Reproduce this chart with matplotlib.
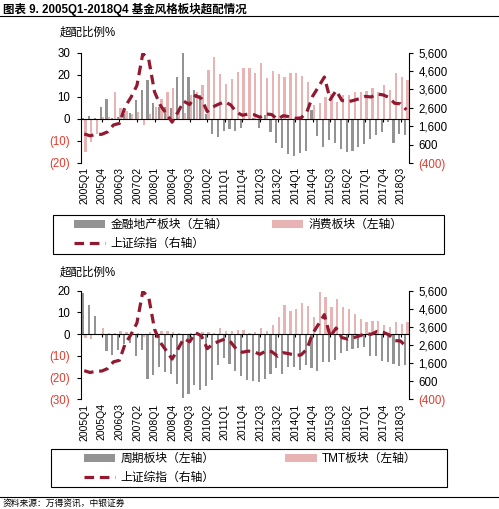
import matplotlib
matplotlib.use('Agg')
import matplotlib.pyplot as plt
from matplotlib.patches import Rectangle, Patch
from matplotlib.lines import Line2D
import numpy as np

plt.rcParams['font.family'] = ['Liberation Sans', 'Noto Sans CJK SC']

# quarters 2005Q1 .. 2018Q4
quarters = [f'{y}Q{q}' for y in range(2005, 2019) for q in range(1, 5)]

# 上证综指 quarter close
sh_index = [1181, 1080, 1155, 1161, 1299, 1672, 1753, 2675,
            3183, 3821, 5552, 5262, 3473, 2736, 2293, 1821,
            2373, 2959, 2779, 3277, 3109, 2398, 2656, 2808,
            2928, 2762, 2359, 2199, 2263, 2225, 2086, 2269,
            2237, 1979, 2175, 2116, 2033, 2048, 2364, 3235,
            3748, 4277, 3053, 3539, 3004, 2930, 3005, 3104,
            3223, 3192, 3349, 3307, 3169, 2847, 2821, 2494]

# top panel: 金融地产 / 消费 over-weight (%)
finance = [0.3, 1.5, 0.5, 5.6, 9.0, 0.5, 1.0, 2.0,
           2.5, 8.5, 13.2, 17.7, 7.0, 5.2, 5.2, 4.8,
           19.2, 29.7, 19.2, 13.2, 10.8, 2.0, -7.0, -8.0,
           -5.5, -4.5, -5.5, -4.2, -0.3, 0.3, -4.2, 1.8,
           -6.0, -11.0, -13.3, -16.0, -16.7, -15.6, -14.4, 4.0,
           -7.6, -12.6, -9.5, -11.0, -13.8, -14.8, -14.5, -12.6,
           -11.5, -9.2, -7.3, -6.0, -1.5, -11.0, -7.0, -7.3]
consumer = [-14.8, -10.3, -7.0, 0.8, 1.0, 12.0, 5.0, 3.5,
            2.0, 3.0, -3.0, 2.4, 5.6, 9.0, 12.0, 14.0,
            4.0, 2.6, 10.6, 12.4, 15.5, 22.0, 28.2, 20.3,
            15.8, 18.0, 21.2, 23.0, 23.2, 20.7, 25.2, 18.7,
            21.6, 20.3, 19.0, 21.0, 21.0, 19.4, 16.7, 6.3,
            7.1, 9.8, 11.1, 7.6, 10.9, 11.0, 12.3, 12.4,
            12.7, 13.9, 12.2, 15.2, 13.1, 20.8, 18.9, 17.6]

# bottom panel: 周期 / TMT over-weight (%)
cyclical = [18.9, 13.3, 8.3, -0.5, -7.6, -9.5, -7.1, -4.5,
            -4.0, -9.9, -7.3, -20.5, -18.8, -15.0, -17.3, -18.4,
            -22.8, -29.4, -27.5, -23.5, -25.8, -24.0, -21.0, -14.1,
            -10.8, -13.8, -17.0, -19.5, -21.3, -21.8, -22.0, -20.7,
            -18.4, -15.5, -18.4, -15.0, -15.0, -16.5, -14.0, -15.8,
            -17.2, -12.6, -13.0, -11.8, -8.6, -7.6, -6.9, -6.2,
            -5.7, -9.9, -9.9, -12.2, -12.6, -13.6, -14.7, -14.2]
tmt = [-1.8, -2.3, 0.2, 3.0, 0.3, 0.5, 1.5, 1.0,
       0.5, 0.5, -1.5, 1.0, 0.5, 1.5, 1.5, 1.0,
       0.3, 0.2, 0.3, 0.5, 1.0, 1.0, 0.5, 3.0,
       1.5, 1.5, 2.0, 2.0, 0.5, 1.0, 2.8, 1.5,
       4.3, 7.8, 13.5, 10.8, 11.5, 14.3, 13.0, 7.7,
       19.4, 17.0, 12.6, 16.2, 12.3, 11.5, 9.4, 7.0,
       5.8, 6.2, 6.2, 4.3, 3.4, 5.5, 4.6, 5.4]

GREY = '#939393'
PINK = '#e8b3b3'
LINE = '#921a30'
NEG = '#e23c2e'
DASH = (0, (3, 1.8))

W, H = 499, 509
fig = plt.figure(figsize=(W / 100, H / 100), dpi=100)


def fx(x):
    return x / W


def fy(y):
    return 1 - y / H


def left_label(v):
    return f'({-v})' if v < 0 else f'{v}'


def right_label(v):
    return f'({-v:,})' if v < 0 else f'{v:,}'


def draw_panel(top, bottom, grey_vals, pink_vals, ylim):
    ax = fig.add_axes([fx(81.3), fy(bottom), fx(409.3) - fx(81.3), fy(top) - fy(bottom)])
    x = np.arange(len(quarters))
    ax.bar(x - 0.2, grey_vals, width=0.38, color=GREY, zorder=2)
    ax.bar(x + 0.2, pink_vals, width=0.38, color=PINK, zorder=2)
    ax.set_xlim(-0.5, len(quarters) - 0.5)
    ax.set_ylim(ylim)

    yt = list(range(ylim[0], ylim[1] + 1, 10))
    ax.set_yticks(yt, [left_label(v) for v in yt])
    for lab, v in zip(ax.get_yticklabels(), yt):
        lab.set_color(NEG if v < 0 else 'black')
    ax.tick_params(axis='y', direction='out', length=3, width=0.8, pad=5, labelsize=8.3)

    # x axis line sits on zero, labels at the bottom
    ax.spines['top'].set_visible(False)
    ax.spines['right'].set_visible(False)
    ax.spines['bottom'].set_position(('data', 0))
    ax.spines['left'].set_linewidth(0.8)
    ax.spines['bottom'].set_linewidth(0.8)
    xt = x[::3]
    ax.set_xticks(xt)
    ax.tick_params(axis='x', direction='out', length=2.5, width=0.8, labelbottom=False)
    sec = ax.secondary_xaxis('bottom')
    sec.set_xticks(xt, [quarters[i] for i in xt], rotation=90)
    sec.tick_params(length=0, pad=3, labelsize=7.5)
    sec.spines['bottom'].set_visible(False)

    ax2 = ax.twinx()
    ax2.plot(x, sh_index, color=LINE, lw=2.3, ls=DASH, zorder=3)
    ax2.set_ylim(-400, 5600)
    rt = [-400, 600, 1600, 2600, 3600, 4600, 5600]
    ax2.set_yticks(rt, [right_label(v) for v in rt])
    for lab, v in zip(ax2.get_yticklabels(), rt):
        lab.set_color(NEG if v < 0 else 'black')
    ax2.tick_params(axis='y', direction='out', length=3, width=0.8, pad=3.5, labelsize=8.3)
    for s in ['top', 'bottom', 'left']:
        ax2.spines[s].set_visible(False)
    ax2.spines['right'].set_linewidth(0.8)
    return ax


def draw_legend(box, anchor, names, colspace):
    handles = [Patch(facecolor=GREY), Line2D([], [], color=LINE, lw=2.3, ls=DASH),
               Patch(facecolor=PINK)]
    labels = [names[0], '上证综指（右轴）', names[1]]
    fig.legend(handles, labels, loc='upper left', bbox_to_anchor=(fx(anchor[0]), fy(anchor[1])),
               ncol=2, frameon=False, fontsize=8.5, borderpad=0, handlelength=2.65,
               handleheight=0.6, handletextpad=0.45, labelspacing=0.6,
               columnspacing=colspace, borderaxespad=0)
    x0, y0, x1, y1 = box
    fig.add_artist(Rectangle((fx(x0), fy(y1)), fx(x1) - fx(x0), fy(y0) - fy(y1),
                             transform=fig.transFigure, fill=False, ec='black', lw=0.8))


# header
fig.text(fx(3), fy(9), '图表 9. 2005Q1-2018Q4 基金风格板块超配情况', fontsize=8.3,
         fontweight='bold', va='center')
fig.add_artist(Line2D([0, 1], [fy(16), fy(16)], transform=fig.transFigure, color='black', lw=0.8))

fig.text(fx(60), fy(33), '超配比例%', fontsize=8.3, va='center')
draw_panel(52.7, 163, finance, consumer, (-20, 30))
draw_legend((53.3, 215.3, 444.3, 254), (74, 219), ['金融地产板块（左轴）', '消费板块（左轴）'], 3.7)

fig.text(fx(60), fy(273), '超配比例%', fontsize=8.3, va='center')
draw_panel(290.7, 399.3, cyclical, tmt, (-30, 20))
draw_legend((51, 449.3, 446.7, 487.3), (84, 453), ['周期板块（左轴）', 'TMT板块（左轴）'], 6.0)

# footer
fig.add_artist(Line2D([0, 1], [fy(497), fy(497)], transform=fig.transFigure, color='black', lw=0.8))
fig.text(fx(3), fy(503), '资料来源：万得资讯，中银证券', fontsize=6.3, va='center', style='italic')

fig.savefig('out.png', dpi=100)
